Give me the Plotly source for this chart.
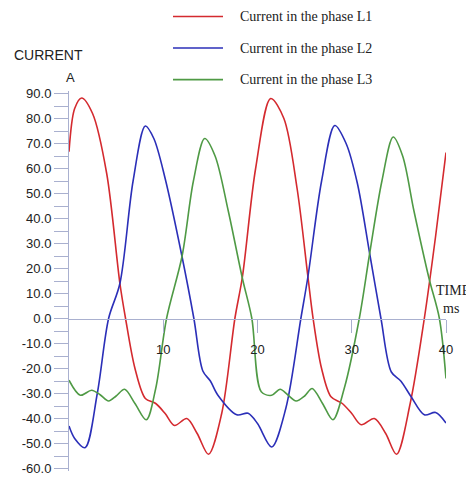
import plotly.graph_objects as go

t_L1 = [0, 0.6, 1.34, 2.5, 4.0, 5.4, 6.0, 7.0, 8.1, 9.2, 10.2, 11.2, 12.5, 13.6, 14.8, 16.2, 17.6, 18.4, 19.8, 21.4, 22.8, 24.2, 25.35, 25.9, 26.8, 27.8, 29.0, 30.0, 31.0, 32.4, 33.6, 34.75, 36.2, 37.7, 38.9, 40.0]
y_L1 = [66.7, 84, 88.2, 82, 58, 14, 0, -20, -32, -34, -38, -42.8, -40, -46, -54.3, -38, 0, 16.7, 60, 88, 80, 52, 16.7, 0, -20, -31.3, -34, -38, -42.5, -40, -46, -54.3, -34, 0, 33, 66.4]

t_L2 = [0, 0.6, 1.7, 3.0, 4.2, 5.4, 6.8, 8.1, 9.0, 10.2, 12.0, 13.25, 14.2, 15.0, 15.8, 17.8, 19.0, 20.0, 21.5, 23.0, 24.6, 25.35, 26.8, 28.2, 29.4, 30.6, 31.9, 33.1, 34.2, 35.2, 36.3, 37.7, 38.9, 40.0]
y_L2 = [-43, -48, -51.7, -30, 0, 14, 55, 77, 72, 56, 24.6, 0, -21, -25, -30.7, -38.5, -37.9, -42, -51.4, -36, 0, 16.7, 55, 77.2, 70, 54, 26, 0, -21.4, -25, -31.3, -38.5, -37.6, -41.8]

t_L3 = [0, 1.2, 2.4, 3.3, 4.2, 5.0, 5.9, 7.0, 8.2, 9.2, 10.35, 12.0, 13.2, 14.4, 15.5, 16.9, 18.4, 19.4, 20.4, 21.5, 22.4, 23.2, 24.1, 25.0, 25.8, 26.9, 28.0, 29.2, 30.8, 31.9, 33.2, 34.4, 35.4, 36.6, 38.2, 39.3, 40.0]
y_L3 = [-24.7, -30.7, -28.7, -30.5, -33, -31, -28.3, -34, -40.5, -28, 0, 25, 55, 72, 65, 43, 16, 0, -29.3, -30.7, -28.3, -30.5, -33, -31, -28, -34, -40.5, -28, 0, 26, 55, 72.6, 65, 43, 16, 0, -24]

x_ticks = [10, 20, 30, 40]
y_ticks = list(range(-60, 91, 10))
legend_names = ["Current in the phase L1", "Current in the phase L2", "Current in the phase L3"]
colors = ["#d42a2f", "#2b2fb8", "#4f9a45"]

fig = go.Figure()
for t, y, c, n in zip([t_L1, t_L2, t_L3], [y_L1, y_L2, y_L3], colors, legend_names):
    fig.add_trace(go.Scatter(x=t, y=y, mode="lines", name=n, line=dict(color=c, width=1.6, shape="spline", smoothing=0.9), showlegend=False))

ymin, ymax = -61, 91
axcol = "#a9b0cf"
fig.update_layout(
    width=474, height=480, paper_bgcolor="white", plot_bgcolor="white",
    margin=dict(l=61, r=36, t=83, b=12),
    xaxis=dict(range=[0, 40], tickvals=x_ticks, showgrid=False, zeroline=False,
               showline=True, linecolor=axcol, ticks="outside", ticklen=13, tickcolor=axcol,
               ticklabelstandoff=6,
               anchor="free", position=(0 - ymin) / (ymax - ymin),
               tickfont=dict(family="Arial", size=13, color="#222")),
    yaxis=dict(range=[ymin, ymax], tickvals=y_ticks, ticktext=[f"{v:.1f}" for v in y_ticks],
               showgrid=False, zeroline=False, showline=True, linecolor=axcol,
               ticks="outside", ticklen=14, tickcolor=axcol,
               minor=dict(tickvals=[v + 5 for v in y_ticks[:-1]], ticks="outside", ticklen=14, tickcolor=axcol),
               tickfont=dict(family="Arial", size=13, color="#222")),
)

def px(x):
    return (x - 61) / 377
def py(y):
    return (468.5 - y) / 385

for i, (n, c) in enumerate(zip(legend_names, colors)):
    yy = py(8 + 32 * i)
    fig.add_shape(type="line", xref="paper", yref="paper", x0=px(165), x1=px(215), y0=yy, y1=yy, line=dict(color=c, width=1.6))
    fig.add_annotation(xref="paper", yref="paper", x=px(230), y=yy, text=n, showarrow=False, xanchor="left", yanchor="middle",
                       font=dict(family="Liberation Serif", size=14, color="#222"))

fig.add_annotation(xref="paper", yref="paper", x=px(4), y=py(47), text="CURRENT", showarrow=False, xanchor="left", yanchor="middle",
                   font=dict(family="Arial", size=14, color="#222"))
fig.add_annotation(xref="paper", yref="paper", x=px(62), y=py(70), text="A", showarrow=False, xanchor="center", yanchor="middle",
                   font=dict(family="Arial", size=13, color="#222"))
fig.add_annotation(xref="paper", yref="paper", x=px(445), y=py(286), text="TIME", showarrow=False, xanchor="center", yanchor="middle",
                   font=dict(family="Liberation Serif", size=14, color="#222"))
fig.add_annotation(xref="paper", yref="paper", x=px(443), y=py(304), text="ms", showarrow=False, xanchor="center", yanchor="middle",
                   font=dict(family="Liberation Serif", size=14, color="#222"))

fig.write_html("out.html")
